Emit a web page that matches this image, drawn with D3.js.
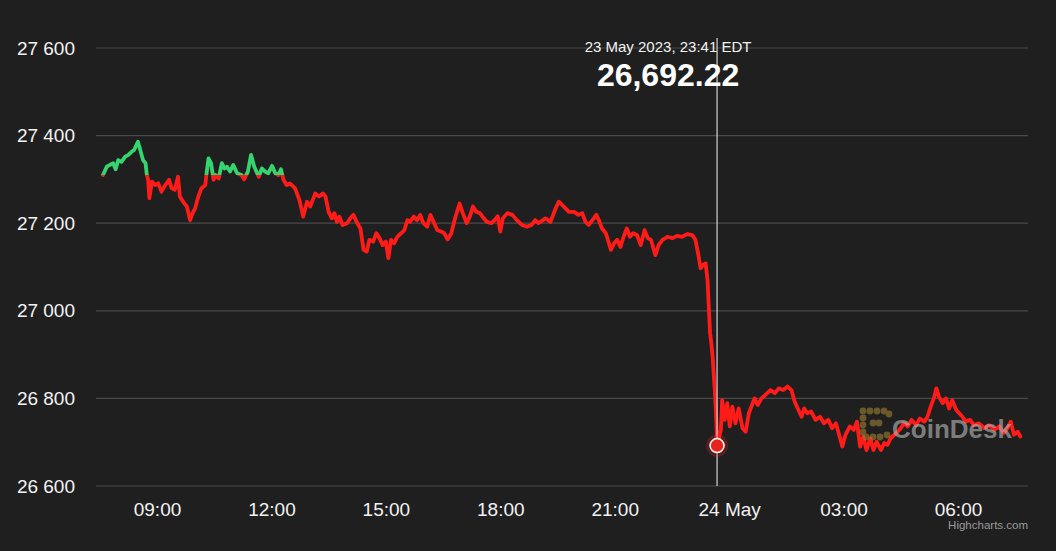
<!DOCTYPE html>
<html>
<head>
<meta charset="utf-8">
<script src="https://cdn.jsdelivr.net/npm/d3@7"></script>
<style>
  html, body { margin: 0; padding: 0; background: #1f1f1f; }
  svg { display: block; font-family: "Liberation Sans", Arial, Helvetica, sans-serif; }
</style>
</head>
<body>
<svg id="chart" width="1056" height="551"></svg>
<script>
// Minutes since 00:00 on 23 May 2023 (EDT)
const minutes = [
  455,461,466,471,475,479,484,490,495,500,504,510,513,518,522,524,526,528,532,537,
  542,547,553,559,563,568,573,576,581,587,592,596,600,605,610,616,618,621,625,629,
  632,637,642,646,650,655,660,666,673,677,683,688,693,700,705,710,715,721,726,731,
  735,739,744,749,757,764,770,776,781,789,795,801,805,810,815,819,823,827,832,839,
  844,849,854,860,865,870,874,880,885,890,895,900,904,908,913,918,924,929,934,938,
  944,949,954,959,965,970,975,981,987,992,997,1003,1008,1016,1021,1027,1032,1037,1042,1048,
  1054,1059,1066,1071,1076,1080,1084,1091,1099,1106,1114,1122,1129,1135,1140,1151,1159,1167,1172,1180,
  1188,1196,1203,1209,1214,1219,1225,1231,1235,1240,1246,1251,1254,1259,1264,1269,1274,1279,1284,1289,
  1295,1301,1307,1312,1317,1324,1329,1335,1343,1351,1358,1366,1374,1382,1387,1392,1395,1399,1403,1406,
  1408,1410,1412,1414,1416,1418,1420,1421,1427,1429,1433,1437,1441,1445,1450,1455,1461,1466,1471,1477,
  1480,1485,1491,1497,1505,1512,1518,1525,1532,1538,1543,1548,1554,1558,1563,1569,1576,1583,1589,1596,
  1602,1608,1613,1618,1623,1630,1636,1641,1646,1651,1656,1662,1667,1672,1679,1684,1689,1694,1700,1705,
  1710,1715,1721,1727,1734,1740,1747,1752,1757,1762,1766,1770,1776,1781,1786,1791,1797,1802,1807,1812,
  1819,1825,1833,1841,1849,1857,1865,1872,1878,1883,1888,1894,1898
];
// BTC price (USD)
const prices = [
  27310,27329,27333,27337,27323,27344,27340,27352,27356,27363,27367,27386,27371,27344,27337,27310,27299,27257,27295,27287,
  27291,27272,27287,27299,27280,27276,27306,27261,27249,27238,27207,27223,27234,27261,27280,27287,27314,27348,27337,27299,
  27310,27302,27337,27325,27329,27318,27333,27314,27310,27300,27318,27356,27329,27306,27325,27318,27314,27331,27314,27310,
  27323,27299,27287,27291,27280,27253,27215,27249,27238,27268,27261,27268,27261,27226,27211,27223,27203,27215,27196,27200,
  27211,27219,27203,27188,27139,27135,27162,27158,27177,27166,27150,27158,27120,27162,27154,27169,27177,27184,27207,27203,
  27215,27207,27219,27200,27192,27219,27203,27184,27181,27177,27163,27177,27207,27245,27223,27200,27215,27238,27226,27223,
  27211,27203,27200,27207,27216,27181,27211,27223,27219,27207,27196,27192,27196,27207,27200,27211,27203,27234,27249,27238,
  27226,27226,27219,27223,27203,27196,27207,27219,27207,27188,27177,27154,27139,27154,27162,27146,27169,27188,27169,27177,
  27173,27150,27184,27166,27162,27127,27150,27162,27169,27166,27171,27169,27175,27173,27162,27124,27097,27105,27108,27070,
  27009,26949,26926,26895,26850,26804,26743,26692.22,26728,26796,26751,26789,26736,26781,26743,26777,26732,26724,26766,26789,
  26800,26785,26800,26808,26819,26812,26823,26819,26827,26819,26793,26777,26758,26777,26766,26770,26751,26758,26743,26751,
  26732,26743,26717,26690,26717,26736,26728,26747,26690,26713,26682,26709,26682,26701,26682,26698,26694,26709,26717,26724,
  26732,26743,26736,26751,26739,26754,26747,26758,26781,26800,26823,26804,26789,26800,26777,26796,26774,26766,26758,26747,
  26751,26739,26743,26732,26739,26728,26736,26721,26732,26747,26717,26724,26713
];
const yTicks = [26600, 26800, 27000, 27200, 27400, 27600];
const xTickMinutes = [540, 720, 900, 1080, 1260, 1440, 1620, 1800];
const xTickLabels = ["09:00", "12:00", "15:00", "18:00", "21:00", "24 May", "03:00", "06:00"];
const hoverMinute = 1421;

const base = new Date(2023, 4, 23, 0, 0);
const toDate = m => new Date(base.getTime() + m * 60000);
const data = minutes.map((m, i) => ({ t: toDate(m), v: prices[i] }));

const svg = d3.select("#chart");
const W = 1056, H = 551;
svg.append("rect").attr("width", W).attr("height", H).attr("fill", "#1f1f1f");

const x = d3.scaleTime()
  .domain([toDate(540), toDate(1800)])
  .range([157, 958]);
const y = d3.scaleLinear().domain([26600, 27600]).range([486, 48]);

const gridLeft = 96, gridRight = 1028;
const spaceFmt = d3.formatLocale({ decimal: ".", thousands: " ", grouping: [3], currency: ["", ""] }).format(",");

// gridlines
svg.append("g").selectAll("line").data(yTicks).join("line")
  .attr("x1", gridLeft).attr("x2", gridRight)
  .attr("y1", d => y(d)).attr("y2", d => y(d))
  .attr("stroke", "#4a4a4a").attr("stroke-width", 1.2);

// y labels
svg.append("g").selectAll("text").data(yTicks).join("text")
  .attr("x", 75).attr("y", d => y(d) + 6.5)
  .attr("text-anchor", "end")
  .attr("fill", "#f2f2f2").attr("font-size", 19)
  .text(d => spaceFmt(d));

// x labels
const xAxis = d3.axisBottom(x)
  .tickValues(xTickMinutes.map(toDate))
  .tickSize(0)
  .tickFormat((d, i) => xTickLabels[i]);
const gx = svg.append("g").attr("transform", "translate(0,493)").call(xAxis);
gx.select(".domain").remove();
gx.selectAll("text").attr("fill", "#f2f2f2").attr("font-size", 19)
  .attr("font-family", "'Liberation Sans', Arial, sans-serif").attr("dy", "1.05em");

// line with threshold colouring
const threshold = prices[0];
const ty = y(threshold);
const defs = svg.append("defs");
defs.append("clipPath").attr("id", "above").append("rect")
  .attr("x", 0).attr("y", 0).attr("width", W).attr("height", ty);
defs.append("clipPath").attr("id", "below").append("rect")
  .attr("x", 0).attr("y", ty).attr("width", W).attr("height", H - ty);

const line = d3.line().x(d => x(d.t)).y(d => y(d.v));
svg.append("path").datum(data).attr("d", line)
  .attr("fill", "none").attr("stroke", "#ff1c18").attr("stroke-width", 3.8)
  .attr("stroke-linejoin", "round").attr("stroke-linecap", "round")
  .attr("clip-path", "url(#below)");
svg.append("path").datum(data).attr("d", line)
  .attr("fill", "none").attr("stroke", "#35d46f").attr("stroke-width", 3.8)
  .attr("stroke-linejoin", "round").attr("stroke-linecap", "round")
  .attr("clip-path", "url(#above)");

// watermark
const wm = svg.append("g").attr("opacity", 0.62);
const iconDots = [[0,0],[7,0],[14,0],[21,0],[26,3],[0,7],[0,14],[0,21],[3,26],[10,26],[17,26],[24,24],[10,12],[16,12]];
wm.selectAll("circle").data(iconDots).join("circle")
  .attr("cx", d => 863 + d[0]).attr("cy", d => 411 + d[1]).attr("r", 3.4)
  .attr("fill", "#9a7d32");
wm.append("text").attr("x", 892).attr("y", 438)
  .attr("font-size", 26).attr("font-weight", "bold").attr("fill", "#b5b5b5")
  .text("CoinDesk");

// crosshair + tooltip
const hp = data.find(d => +d.t === +toDate(hoverMinute));
const hx = x(hp.t), hy = y(hp.v);
svg.append("line").attr("x1", hx).attr("x2", hx).attr("y1", 38).attr("y2", 486)
  .attr("stroke", "#d0d0d0").attr("stroke-width", 1.2);
svg.append("circle").attr("cx", hx).attr("cy", hy).attr("r", 11)
  .attr("fill", "#ff1f1a").attr("opacity", 0.25);
svg.append("circle").attr("cx", hx).attr("cy", hy).attr("r", 7)
  .attr("fill", "#e8231c").attr("stroke", "#ffffff").attr("stroke-width", 1.5);

const fmtDate = d3.timeFormat("%-d %B %Y, %H:%M");
svg.append("text").attr("x", hx - 49).attr("y", 52).attr("text-anchor", "middle")
  .attr("fill", "#f2f2f2").attr("font-size", 15)
  .text(fmtDate(hp.t) + " EDT");
svg.append("text").attr("x", hx - 49).attr("y", 86).attr("text-anchor", "middle")
  .attr("fill", "#ffffff").attr("font-size", 32).attr("font-weight", "bold")
  .text(d3.format(",.2f")(hp.v));

// credit
svg.append("text").attr("x", 1028).attr("y", 529).attr("text-anchor", "end")
  .attr("fill", "#9a9a9a").attr("font-size", 11.5).text("Highcharts.com");
</script>
</body>
</html>
